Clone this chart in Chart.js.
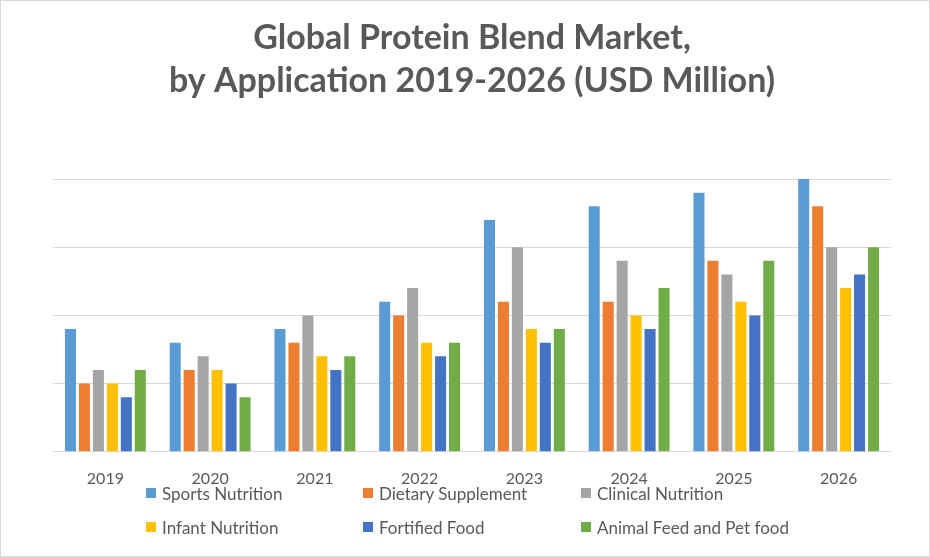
<!DOCTYPE html>
<html>
<head>
<meta charset="utf-8">
<script src="https://cdn.jsdelivr.net/npm/chart.js@4.4.1/dist/chart.umd.min.js"></script>
<style>
  html, body { margin: 0; padding: 0; background: #fff; }
  #wrap { position: relative; width: 930px; height: 557px; box-sizing: border-box; border: 1px solid #d9d9d9; background: #fff; }
  #chart { position: absolute; left: 0; top: 0; }
  #legend { position: absolute; left: 0; top: 0; width: 930px; font-family: Lato, "Noto Sans", sans-serif; font-size: 17px; color: #595959; }
  .item { position: absolute; display: flex; align-items: center; white-space: nowrap; height: 20px; }
  .box { width: 10px; height: 10px; margin-right: 6px; }
</style>
</head>
<body>
<div id="wrap">
  <canvas id="chart" width="928" height="555"></canvas>
  <div id="legend"></div>
</div>
<script>
const years = ['2019', '2020', '2021', '2022', '2023', '2024', '2025', '2026'];
const seriesNames = ['Sports Nutrition', 'Dietary Supplement', 'Clinical Nutrition',
                     'Infant Nutrition', 'Fortified Food', 'Animal Feed and Pet food'];
const colors = ['#5B9BD5', '#ED7D31', '#A5A5A5', '#FFC000', '#4472C4', '#70AD47'];

// values (no y labels, gridline = 10)
const sports     = [18, 16, 18, 22, 34, 36, 38, 40];
const dietary    = [10, 12, 16, 20, 22, 22, 28, 36];
const clinical   = [12, 14, 20, 24, 30, 28, 26, 30];
const infant     = [10, 12, 14, 16, 18, 20, 22, 24];
const fortified  = [ 8, 10, 12, 14, 16, 18, 20, 26];
const animalFeed = [12,  8, 14, 16, 18, 24, 28, 30];

const values = [sports, dietary, clinical, infant, fortified, animalFeed];

const ctx = document.getElementById('chart').getContext('2d');

const datasets = seriesNames.map((name, i) => ({
    label: name,
    data: values[i],
    backgroundColor: colors[i],
    borderWidth: 0,
    barPercentage: 0.79,
    categoryPercentage: 0.8
}));

let mychart = new Chart(ctx, {
    type: 'bar',
    data: { labels: years, datasets },
    options: {
        responsive: false,
        animation: false,
        layout: {
            padding: { left: 52, right: 38, top: 0, bottom: 59 }
        },
        plugins: {
            legend: { display: false },
            tooltip: { enabled: false },
            title: {
                display: true,
                text: ['Global Protein Blend Market,', 'by Application 2019-2026 (USD Million)'],
                color: '#595959',
                font: { family: 'Lato', size: 34, weight: 'bold', lineHeight: 1.25 },
                padding: { top: 16, bottom: 77 }
            }
        },
        scales: {
            x: {
                grid: { display: false },
                border: { display: false },
                ticks: { color: '#595959', font: { family: 'Lato', size: 16 }, padding: 9 }
            },
            y: {
                min: 0,
                max: 40,
                ticks: { display: false, stepSize: 10 },
                grid: { color: '#d9d9d9', drawTicks: false },
                border: { display: false }
            }
        }
    }
});

// legend in the same 3 x 2 layout as the picture
const legend = document.getElementById('legend');
const colX = [145, 362, 580];
const rowY = [493, 527];
seriesNames.forEach((name, i) => {
    const el = document.createElement('div');
    el.className = 'item';
    el.style.left = colX[i % 3] + 'px';
    el.style.top = (rowY[Math.floor(i / 3)] - 11) + 'px';
    el.innerHTML = '<span class="box" style="background:' + colors[i] + '"></span>' + name;
    legend.appendChild(el);
});
</script>
</body>
</html>
